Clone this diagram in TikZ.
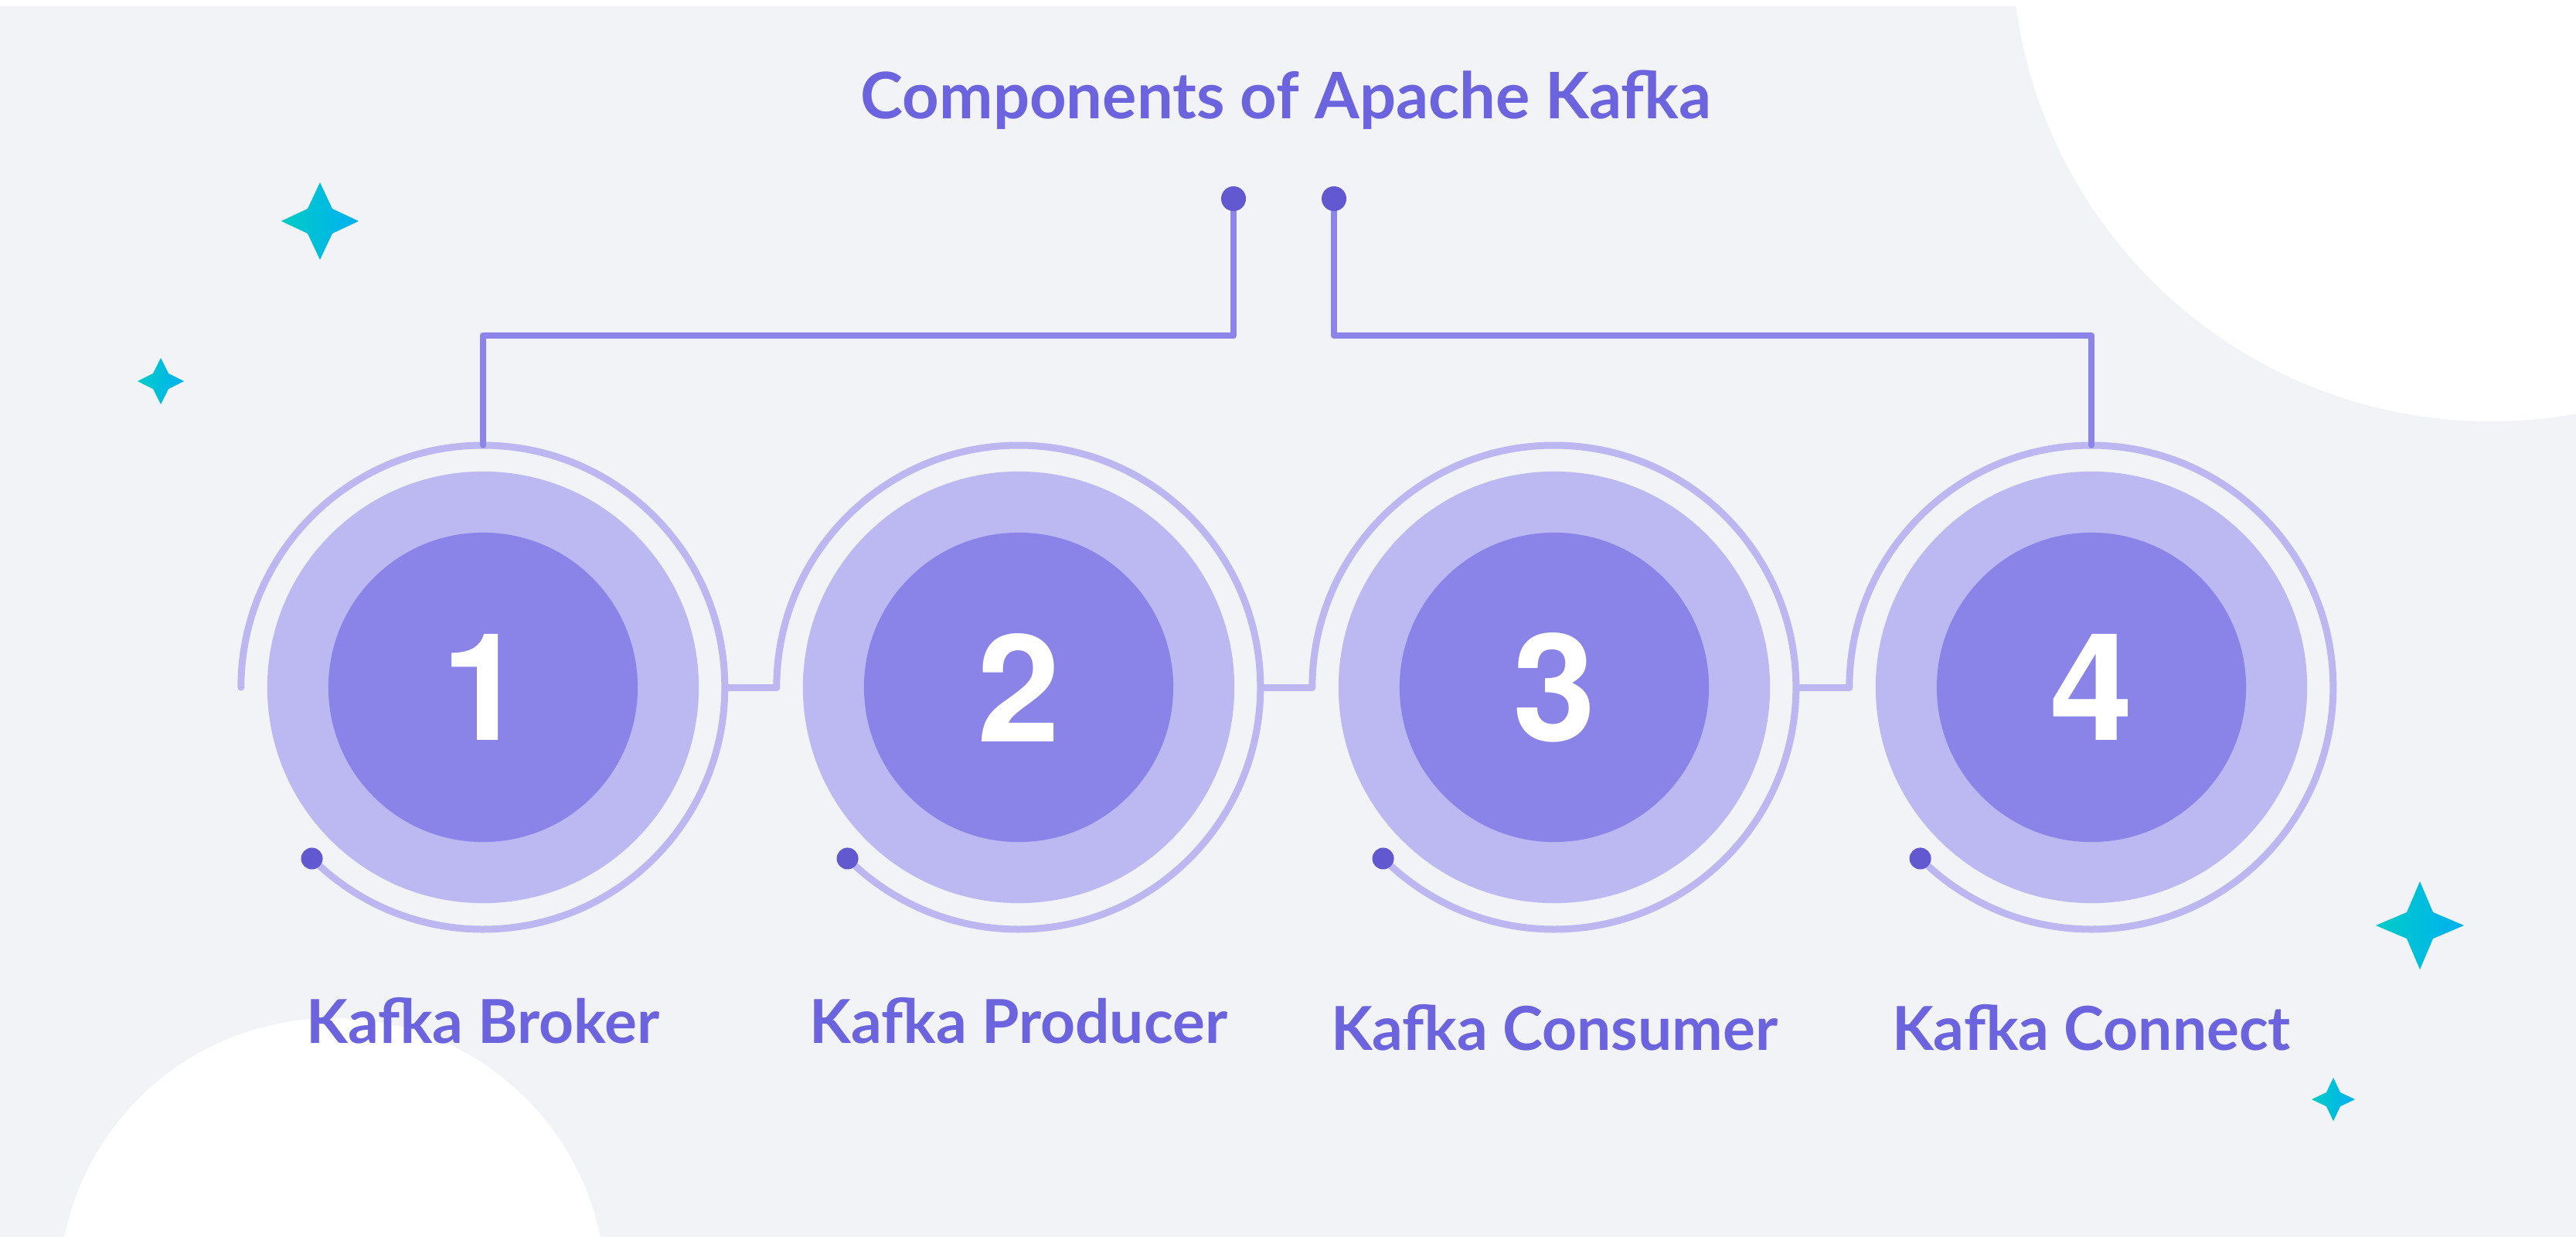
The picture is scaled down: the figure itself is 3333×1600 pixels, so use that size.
\documentclass[tikz,border=0pt]{standalone}
\usepackage{fontspec}
\setmainfont{Lato}
\newfontfamily\digitfont{TeX Gyre Heros}
\usetikzlibrary{positioning}

\definecolor{bgcol}{HTML}{F1F3F7}
\definecolor{discLight}{HTML}{BBB8F2}
\definecolor{discDark}{HTML}{8B84E8}
\definecolor{ringcol}{HTML}{BCB7F1}
\definecolor{linkcol}{HTML}{8C84E8}
\definecolor{dotcol}{HTML}{6258D0}
\definecolor{textcol}{HTML}{6C63DE}
\definecolor{starA}{HTML}{00CCC6}
\definecolor{starB}{HTML}{00B0F2}

\tikzset{
  ringspot/.style={circle, minimum size=6.26cm, inner sep=0pt, outer sep=0pt},
  disc/.style={circle, fill=discLight, minimum size=5.58cm, inner sep=0pt},
  numdisc/.style={circle, fill=discDark, minimum size=4cm, inner sep=0pt,
    text=white, font=\digitfont\fontsize{55}{55}\selectfont\bfseries},
  ringarc/.style={draw=ringcol, line width=0.09cm, line cap=round},
  link/.style={draw=linkcol, line width=0.08cm, line cap=round, line join=round},
  hubdot/.style={circle, fill=dotcol, minimum size=0.32cm, inner sep=0pt},
  enddot/.style={circle, fill=dotcol, minimum size=0.28cm, inner sep=0pt},
  compname/.style={text=textcol, font=\fontsize{22.3}{26}\selectfont\bfseries},
  heading/.style={text=textcol, font=\fontsize{23.6}{28}\selectfont\bfseries}
}

% four-pointed sparkle: x, y, outer, inner
\newcommand\sparkle[4]{%
  \shade[shift={(#1,#2)}, left color=starA, right color=starB]
    (-#3,0) -- (-#4,-#4) -- (0,-#3) -- (#4,-#4) -- (#3,0)
    -- (#4,#4) -- (0,#3) -- (-#4,#4) -- cycle;}

\begin{document}
\begin{tikzpicture}[x=0.01cm, y=-0.01cm]
\useasboundingbox (0,0) rectangle (3333,1600);
\fill[white] (0,0) rectangle (3333,1600);
\fill[bgcol] (0,8) rectangle (3333,1600);

% white blobs
\begin{scope}
  \clip (0,8) rectangle (3333,1600);
  \fill[white] (3223,-75) circle[radius=620];
  \fill[white] (430,1671) circle[radius=354];
\end{scope}

% sparkles
\sparkle{414}{286}{50}{16}
\sparkle{208}{493}{30}{10}
\sparkle{3131}{1197}{57}{17}
\sparkle{3019}{1422}{28}{9}

\node[heading, anchor=base] (title) at (1664,153) {Components of Apache Kafka};

% components
\foreach \i/\cx/\comp/\by in {1/625/Kafka Broker/1349, 2/1318/Kafka Producer/1349,
    3/2011/Kafka Consumer/1358, 4/2706/Kafka Connect/1358}{
  \node[ringspot] (ring\i) at (\cx,889) {};
  \draw[ringarc] (ring\i.west) arc[start angle=180, end angle=495, radius=313];
  \node[disc] (disc\i) at (\cx,889) {};
  \node[numdisc] (num\i) at (\cx,889) {\i};
  \node[enddot] (tail\i) at (ring\i.south west) {};
  \node[compname, anchor=base] (comp\i) at (\cx,\by) {\comp};
}

\draw[ringarc] (ring1.east) -- (ring2.west);
\draw[ringarc] (ring2.east) -- (ring3.west);
\draw[ringarc] (ring3.east) -- (ring4.west);

% links from the title
\coordinate (hubL) at (1596,257);
\coordinate (hubR) at (1726,257);
\draw[link] (hubL) -- ++(0,177) -| (ring1.north);
\draw[link] (hubR) -- ++(0,177) -| (ring4.north);
\node[hubdot] (dotL) at (hubL) {};
\node[hubdot] (dotR) at (hubR) {};
\end{tikzpicture}
\end{document}
